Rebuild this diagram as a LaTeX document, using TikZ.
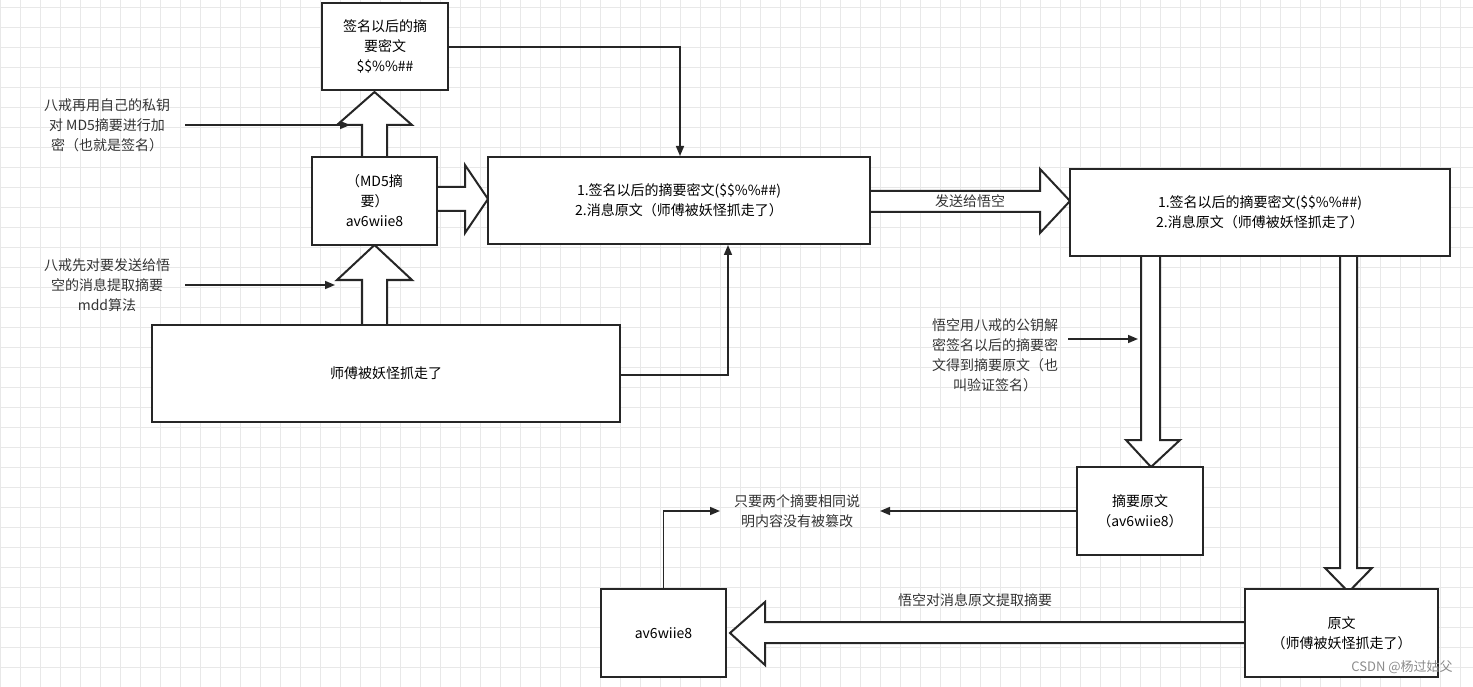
\documentclass[tikz,border=0pt]{standalone}
\usepackage{fontspec}
\setmainfont{Noto Sans CJK SC}
\usetikzlibrary{arrows.meta}
\begin{document}
\begin{tikzpicture}[x=1pt,y=-1pt,
  box/.style={draw=black!85,line width=2pt,fill=white,align=center,font=\fontsize{14}{20}\selectfont,inner sep=0pt},
  lbl/.style={align=center,font=\fontsize{14}{20}\selectfont,text=black!80},
  blk/.style={draw=black!85,line width=2pt,fill=white,line join=miter},
  conn/.style={draw=black!85,line width=1.6pt,-{Triangle[length=10pt,width=8pt]}},
  grd/.style={draw=black!9,line width=0.7pt}]
\useasboundingbox (0,0) rectangle (1473,687);
\fill[white] (0,0) rectangle (1473,687);
\foreach \i in {0,20,...,1460} {\draw[grd] (\i,0)--(\i,687);}
\foreach \j in {7,27,...,687} {\draw[grd] (0,\j)--(1473,\j);}
% block arrows
\draw[blk] (362,325)--(362,280)--(337,280)--(374.5,245)--(412,280)--(387,280)--(387,325);
\draw[blk] (362,157)--(362,125)--(337,125)--(374.5,92)--(412,125)--(387,125)--(387,157);
\draw[blk] (437,187)--(465,187)--(465,165)--(488,199)--(465,233)--(465,211)--(437,211);
\draw[blk] (870,191)--(1040,191)--(1040,169)--(1070,201)--(1040,233)--(1040,212)--(870,212);
\draw[blk] (1141,256)--(1141,440)--(1126,440)--(1151,467)--(1180,440)--(1160,440)--(1160,256);
\draw[blk] (1340,256)--(1340,568)--(1325,568)--(1348.5,592)--(1372,568)--(1357,568)--(1357,256);
\draw[blk] (1245,622)--(765,622)--(765,602)--(730,633)--(765,665)--(765,643)--(1245,643);
% boxes
\node[box,minimum width=126pt,minimum height=87pt] (sig) at (385,46.5) {签名以后的摘\\要密文\\\$\$\%\%\#\#};
\node[box,minimum width=125pt,minimum height=88pt] (md5) at (374.5,201) {（MD5摘\\要）\\av6wiie8};
\node[box,minimum width=382pt,minimum height=87pt] (m1) at (679,200.5) {1.签名以后的摘要密文(\$\$\%\%\#\#)\\2.消息原文（师傅被妖怪抓走了）};
\node[box,minimum width=380pt,minimum height=87pt] (m2) at (1260,212.5) {1.签名以后的摘要密文(\$\$\%\%\#\#)\\2.消息原文（师傅被妖怪抓走了）};
\node[box,minimum width=468pt,minimum height=97pt] (src) at (386,373.5) {师傅被妖怪抓走了};
\node[box,minimum width=126pt,minimum height=88pt] (dg) at (1140,511) {摘要原文\\（av6wiie8）};
\node[box,minimum width=193pt,minimum height=88pt] (orig) at (1341.5,633) {原文\\（师傅被妖怪抓走了）};
\node[box,minimum width=125pt,minimum height=88pt] (av) at (663.5,633) {av6wiie8};
% labels
\node[lbl] (l1) at (107,125) {八戒再用自己的私钥\\对 MD5摘要进行加\\密（也就是签名）};
\node[lbl] (l2) at (107,285) {八戒先对要发送给悟\\空的消息提取摘要\\mdd算法};
\node[lbl] (l3) at (995,355) {悟空用八戒的公钥解\\密签名以后的摘要密\\文得到摘要原文（也\\叫验证签名）};
\node[lbl] (l4) at (797,511) {只要两个摘要相同说\\明内容没有被篡改};
\node[lbl] (l5) at (970,201) {发送给悟空};
\node[lbl] (l6) at (975,600) {悟空对消息原文提取摘要};
\node[lbl,text=black!45,font=\fontsize{13}{16}\selectfont] (wm) at (1402,667) {CSDN @杨过姑父};
% connectors
\coordinate (a1) at (185,125); \coordinate (b1) at (350,125);
\draw[conn] (a1)--(b1);
\coordinate (a2) at (185,285); \coordinate (b2) at (335,285);
\draw[conn] (a2)--(b2);
\coordinate (a3) at (1068,339); \coordinate (b3) at (1138,339);
\draw[conn] (a3)--(b3);
\draw[conn] (sig.east|-0,47) -| (m1.north-|680,0);
\draw[conn] (src.east|-0,375) -| (m1.south-|728,0);
\draw[conn] (dg.west) -- (880,511);
\draw[conn] (av.north) |- (720,511);
\end{tikzpicture}
\end{document}
